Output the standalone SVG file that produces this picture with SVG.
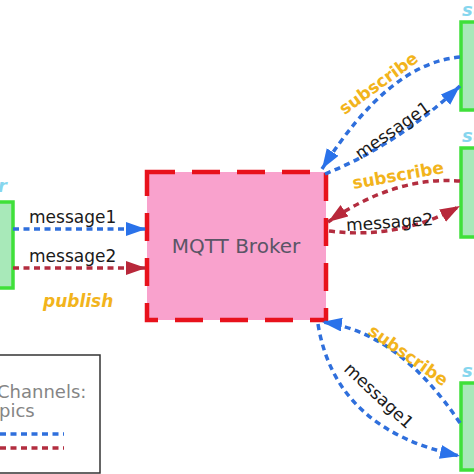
<svg xmlns="http://www.w3.org/2000/svg" width="474" height="474" viewBox="0 0 474 474">
<style>
.node{fill:#a8e9b9;stroke:#3fe03a;stroke-width:3.5}
.lbl{font-family:"DejaVu Sans",sans-serif;font-size:17px;fill:#1a1a1a}
.act{font-family:"DejaVu Sans",sans-serif;font-size:17px;font-weight:bold;fill:#f2b41c}
.cy{font-family:"DejaVu Sans",sans-serif;font-size:18px;font-weight:bold;font-style:italic;fill:#86d6ee}
.b{fill:none;stroke:#2f6fdc;stroke-width:3.5;stroke-dasharray:6 4.5}
.r{fill:none;stroke:#b32d3f;stroke-width:3.5;stroke-dasharray:6 4.5}
</style>
<defs>
<marker id="ab" markerUnits="userSpaceOnUse" markerWidth="22" markerHeight="16" refX="20" refY="7" orient="auto"><path d="M0,0 L20,7 L0,14 z" fill="#2a72ea"/></marker>
<marker id="ar" markerUnits="userSpaceOnUse" markerWidth="22" markerHeight="16" refX="20" refY="7" orient="auto"><path d="M0,0 L20,7 L0,14 z" fill="#b8283a"/></marker>
</defs>
<rect width="474" height="474" fill="#ffffff"/>

<g id="publisher">
<rect class="node" x="-10" y="202" width="23" height="86"/>
<text class="cy" x="7" y="192" text-anchor="end">publisher</text>
</g>

<g id="broker">
<rect x="147" y="172" width="179" height="148" fill="#f9a2cd" stroke="#e8121c" stroke-width="4.5" stroke-dasharray="28 17"/>
<text x="236" y="253" text-anchor="middle" font-family="DejaVu Sans, sans-serif" font-size="20" fill="#5b5566">MQTT Broker</text>
</g>

<g id="sub1">
<rect class="node" x="461" y="22" width="20" height="88"/>
<text class="cy" x="462" y="16">subscriber</text>
</g>
<g id="sub2">
<rect class="node" x="461" y="148" width="20" height="89"/>
<text class="cy" x="462" y="142">subscriber</text>
</g>
<g id="sub3">
<rect class="node" x="461" y="383" width="20" height="87"/>
<text class="cy" x="462" y="377">subscriber</text>
</g>

<g id="connectors">
<path class="b" d="M13,229 L146,229" marker-end="url(#ab)"/>
<path class="r" d="M13,268 L146,268" marker-end="url(#ar)"/>
<path class="b" d="M460,57 Q389,63 322,169" marker-end="url(#ab)"/>
<path class="b" d="M325,174 Q397,145 460,86" marker-end="url(#ab)"/>
<path class="r" d="M460,181 Q395,176 328,222" marker-end="url(#ar)"/>
<path class="r" d="M329,231 Q399,240 460,206" marker-end="url(#ar)"/>
<path class="b" d="M460,423 Q399,332 322,322" marker-end="url(#ab)"/>
<path class="b" d="M318,324 Q335,430 460,456" marker-end="url(#ab)"/>
</g>

<g id="labels">
<text class="lbl" x="29" y="223">message1</text>
<text class="lbl" x="29" y="262">message2</text>
<text class="act" x="43" y="307" font-style="italic" font-size="18">publish</text>
<text class="act" transform="translate(382,88) rotate(-36)" text-anchor="middle">subscribe</text>
<text class="lbl" transform="translate(396,135) rotate(-35)" text-anchor="middle">message1</text>
<text class="act" transform="translate(399,181) rotate(-10)" text-anchor="middle">subscribe</text>
<text class="lbl" transform="translate(390,228) rotate(-4)" text-anchor="middle">message2</text>
<text class="act" transform="translate(405,360) rotate(35)" text-anchor="middle">subscribe</text>
<text class="lbl" transform="translate(375,400) rotate(43)" text-anchor="middle">message1</text>
</g>

<g id="legend">
<rect x="-5" y="355" width="105" height="118" fill="none" stroke="#333333" stroke-width="1.5"/>
<text x="-3" y="398" font-family="DejaVu Sans, sans-serif" font-size="18" fill="#858585">Channels:</text>
<text x="-1" y="417" font-family="DejaVu Sans, sans-serif" font-size="18" fill="#858585">pics</text>
<path class="b" d="M0,434 L64,434"/>
<path class="r" d="M0,448 L64,448"/>
</g>
</svg>
